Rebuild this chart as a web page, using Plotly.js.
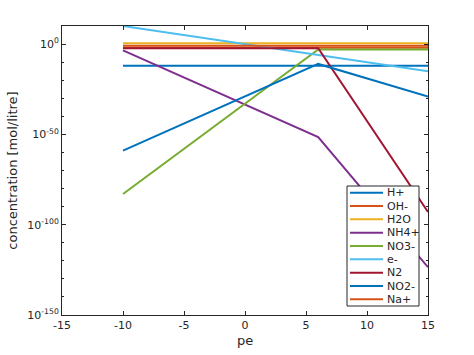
<!DOCTYPE html>
<html>
<head>
<meta charset="utf-8">
<script src="https://cdn.plot.ly/plotly-3.0.1.min.js"></script>
<style>html,body{margin:0;padding:0;background:#fff;}#chart{width:474px;height:355px;}</style>
</head>
<body>
<div id="chart"></div>
<script>
const pe = [-10, 6, 15];
const H = [1e-12, 1e-12, 1e-12];
const OH = [1e-2, 1e-2, 1e-2];
const H2O = [3, 3, 3];
const NH4 = [3e-4, 3e-52, 3e-124];
const NO3 = [1e-83, 1e-3, 1e-3];
const eMinus = [1e10, 1e-6, 1e-15];
const N2 = [5e-3, 5e-3, 1e-93];
const NO2 = [1e-59, 1e-11, 1e-29];
const Na = [1e-1, 1e-1, 1e-1];

const names = ['H+', 'OH-', 'H2O', 'NH4+', 'NO3-', 'e-', 'N2', 'NO2-', 'Na+'];
const series = [H, OH, H2O, NH4, NO3, eMinus, N2, NO2, Na];
const colors = ['#0072BD', '#D95319', '#EDB120', '#7E2F8E', '#77AC30', '#4DBEEE', '#A2142F', '#0072BD', '#D95319'];

const xtv = [-15, -10, -5, 0, 5, 10, 15];
const xtt = ['-15', '-10', '-5', '0', '5', '10', '15'];
const ytv = [1e-150, 1e-100, 1e-50, 1e0];
const ytt = ['10<sup>-150</sup>', '10<sup>-100</sup>', '10<sup>-50</sup>', '10<sup>0</sup>'];

const traces = series.map((s, i) => ({
  x: pe, y: s, name: names[i], type: 'scatter', mode: 'lines',
  line: {color: colors[i], width: 2}, showlegend: false
}));

// Plot area in pixels (for a compact MATLAB-style legend)
const W = 474, Hh = 355, ml = 62, mr = 46, mt = 26, mb = 40;
const pw = W - ml - mr, ph = Hh - mt - mb;
const px = v => (v - ml) / pw;
const py = v => (Hh - mb - v) / ph;

const axcol = '#262626';
const shapes = [];
const annotations = [];
const lgL = 347, lgR = 419, lgT = 186, lgB = 306;
shapes.push({type: 'rect', xref: 'paper', yref: 'paper', x0: px(lgL), x1: px(lgR), y0: py(lgB), y1: py(lgT),
  line: {color: axcol, width: 1}, fillcolor: '#fff', layer: 'above'});
const rowH = (lgB - lgT) / names.length;
names.forEach((n, i) => {
  const yc = lgT + rowH * (i + 0.5);
  shapes.push({type: 'line', xref: 'paper', yref: 'paper', x0: px(350), x1: px(383), y0: py(yc), y1: py(yc),
    line: {color: colors[i], width: 2}, layer: 'above'});
  annotations.push({xref: 'paper', yref: 'paper', x: px(385), y: py(yc), xanchor: 'left', yanchor: 'middle',
    text: n, showarrow: false, font: {size: 11, color: axcol}});
});

const layout = {
  width: W, height: Hh,
  margin: {l: ml, r: mr, t: mt, b: mb, pad: 0},
  paper_bgcolor: '#fff', plot_bgcolor: '#fff',
  font: {family: 'DejaVu Sans, sans-serif', size: 11, color: axcol},
  showlegend: false,
  shapes: shapes,
  annotations: annotations,
  xaxis: {
    range: [-15, 15], tickmode: 'array', tickvals: xtv, ticktext: xtt,
    ticks: 'inside', ticklen: 4, tickcolor: axcol, mirror: 'ticks',
    showline: true, linecolor: axcol, linewidth: 1, showgrid: false, zeroline: false,
    title: {text: 'pe', font: {size: 13}, standoff: 4},
    tickfont: {size: 11}
  },
  yaxis: {
    type: 'log', range: [-150, 10], tickmode: 'array', tickvals: ytv, ticktext: ytt,
    ticks: 'inside', ticklen: 4, tickcolor: axcol, mirror: 'ticks',
    showline: true, linecolor: axcol, linewidth: 1, showgrid: false, zeroline: false,
    minor: {tickmode: 'array', tickvals: [1e-140,1e-130,1e-120,1e-110,1e-90,1e-80,1e-70,1e-60,1e-40,1e-30,1e-20,1e-10,1e10], ticks: 'inside', ticklen: 2, tickcolor: axcol, showgrid: false},
    title: {text: 'concentration [mol/litre]', font: {size: 13}, standoff: 6},
    tickfont: {size: 11}
  }
};

Plotly.newPlot('chart', traces, layout, {displayModeBar: false, staticPlot: true});
</script>
</body>
</html>
